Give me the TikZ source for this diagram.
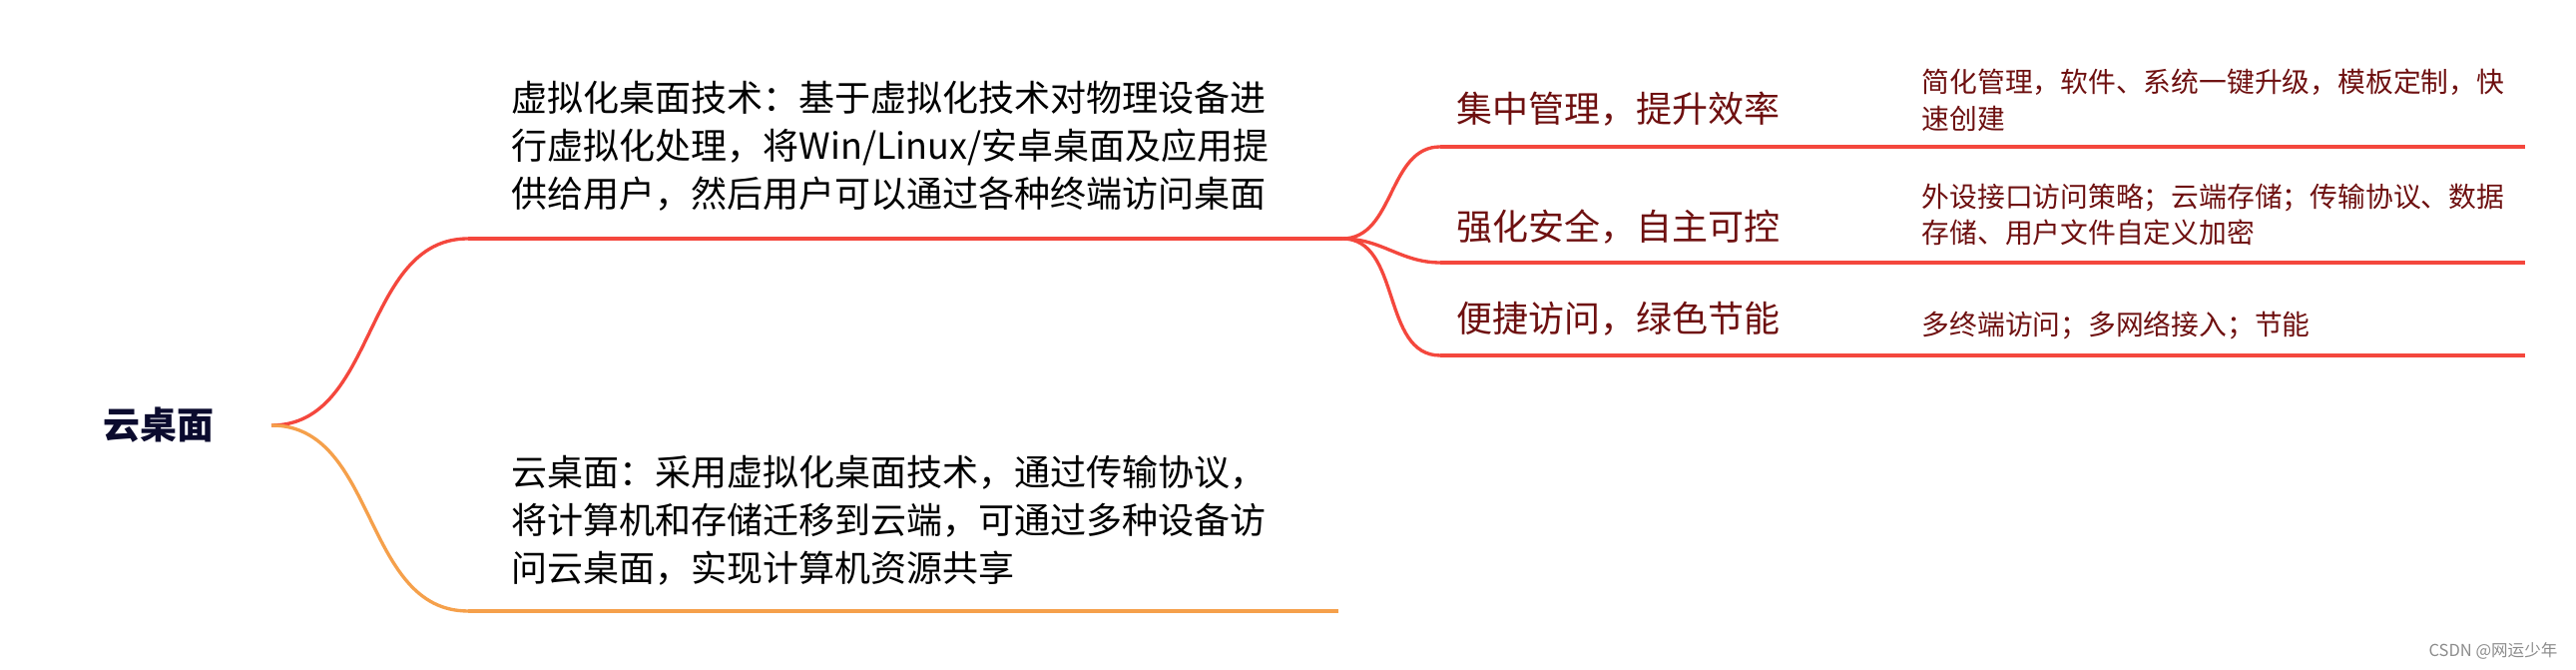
\documentclass[tikz,border=0pt]{standalone}
\usepackage{fontspec}
\usepackage{tikz}
\usetikzlibrary{arrows,positioning}
\newfontfamily\cjk{Noto Sans CJK SC}
\pgfdeclarelayer{edgelayer}
\pgfdeclarelayer{nodelayer}
\pgfsetlayers{edgelayer,nodelayer,main}
\definecolor{lred}{HTML}{F4473D}
\definecolor{lorange}{HTML}{F5A04B}
\definecolor{dred}{HTML}{6E1010}
\definecolor{navy}{HTML}{0B0B2E}
\tikzset{font=\cjk}
\tikzstyle{none}=[inner sep=0pt]
\tikzstyle{topic}=[inner sep=0pt,text=navy,font=\cjk\bfseries\fontsize{10.5}{12}\selectfont]
\tikzstyle{summary}=[inner sep=0pt,anchor=west,align=left,text=black,font=\cjk\fontsize{10.24}{13.7}\selectfont]
\tikzstyle{feature}=[inner sep=0pt,anchor=west,text=dred,font=\cjk\fontsize{10.24}{12}\selectfont]
\tikzstyle{detail}=[inner sep=0pt,anchor=west,align=left,text=dred,font=\cjk\fontsize{7.9}{10.5}\selectfont]
\tikzstyle{redline}=[-,draw=lred,line width=0.95pt]
\tikzstyle{orangeline}=[-,draw=lorange,line width=0.95pt]
\tikzset{every picture/.style={line width=0.5pt}}

\begin{document}
\begin{tikzpicture}[x=0.01cm,y=-0.01cm]
	\useasboundingbox (0,0) rectangle (2581,671);
	\begin{pgfonlayer}{nodelayer}
		\node [style=topic] (root) at (159,426) {云桌面};
		\node [style=none] (r0) at (272,426) {};
		\node [style=none] (UL) at (469,239) {};
		\node [style=none] (UR) at (1345,239) {};
		\node [style=none] (DL) at (469,612) {};
		\node [style=none] (DR) at (1341,612) {};
		\node [style=summary] (vdi) at (512,146) {虚拟化桌面技术：基于虚拟化技术对物理设备进\\行虚拟化处理，将Win/Linux/安卓桌面及应用提\\供给用户，然后用户可以通过各种终端访问桌面};
		\node [style=summary] (cloud) at (512,521) {云桌面：采用虚拟化桌面技术，通过传输协议，\\将计算机和存储迁移到云端，可通过多种设备访\\问云桌面，实现计算机资源共享};
		\node [style=none] (ATL) at (1443,147) {};
		\node [style=none] (ATR) at (2530,147) {};
		\node [style=none] (BTL) at (1443,263) {};
		\node [style=none] (BTR) at (2530,263) {};
		\node [style=none] (CTL) at (1443,356) {};
		\node [style=none] (CTR) at (2530,356) {};
		\node [style=feature] (mgmt) at (1459,109) {集中管理，提升效率};
		\node [style=feature] (safe) at (1459,227) {强化安全，自主可控};
		\node [style=feature] (access) at (1459,319) {便捷访问，绿色节能};
		\node [style=detail] (mgmt') at (1925,100) {简化管理，软件、系统一键升级，模板定制，快\\速创建};
		\node [style=detail] (safe') at (1925,215) {外设接口访问策略；云端存储；传输协议、数据\\存储、用户文件自定义加密};
		\node [style=detail] (access') at (1925,326) {多终端访问；多网络接入；节能};
		\node [style=none, anchor=east, text=black!45, font=\cjk\fontsize{4.7}{5.5}\selectfont] (mark) at (2563,652) {CSDN @网运少年};
	\end{pgfonlayer}
	\begin{pgfonlayer}{edgelayer}
		\draw [style=redline, out=0, in=180] (r0.center) to (UL.center);
		\draw [style=redline] (UL.center) to (UR.center);
		\draw [style=orangeline, out=0, in=180] (r0.center) to (DL.center);
		\draw [style=orangeline] (DL.center) to (DR.center);
		\draw [style=redline, out=0, in=180] (UR.center) to (ATL.center);
		\draw [style=redline, out=0, in=180] (UR.center) to (BTL.center);
		\draw [style=redline, out=0, in=180] (UR.center) to (CTL.center);
		\draw [style=redline] (ATL.center) to (ATR.center);
		\draw [style=redline] (BTL.center) to (BTR.center);
		\draw [style=redline] (CTL.center) to (CTR.center);
	\end{pgfonlayer}
\end{tikzpicture}
\end{document}
